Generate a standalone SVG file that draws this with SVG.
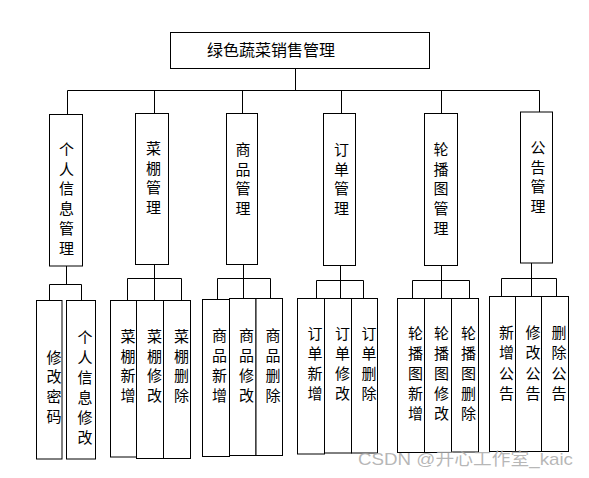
<svg xmlns="http://www.w3.org/2000/svg" width="589" height="478" viewBox="0 0 589 478">
<style>
.box{fill:#fff;stroke:#000;stroke-width:1}
.cn{fill:none;stroke:#000;stroke-width:1}
text{font-family:"Noto Sans CJK SC","Noto Sans CJK JP",sans-serif;fill:#000}
.v{font-size:15px;text-anchor:middle}
.t{font-size:16px}
.wm{font-family:"Liberation Sans","Noto Sans CJK SC",sans-serif;font-size:17px;fill:#aaa;fill-opacity:0.85}
</style>
<rect width="589" height="478" fill="#fff"/>
<g id="connectors">
<path class="cn" d="M295.5 68.5V90.5M67.5 90.5H539.5M67.5 90.5V114M154.5 90.5V113M242.5 90.5V113M341.5 90.5V113M441.5 90.5V113M539.5 90.5V112"/>
<path class="cn" d="M66.5 266V284.5M49.5 300V284.5H81.5V300"/>
<path class="cn" d="M154.5 264V300M127.5 300V278.5H181.5V300"/>
<path class="cn" d="M243.5 264V298M217.5 299V278.5H270.5V298"/>
<path class="cn" d="M340.5 265V298M316.5 298V280.5H363.5V298"/>
<path class="cn" d="M441.5 265V298M412.5 298V280.5H469.5V298"/>
<path class="cn" d="M531.5 263V296M501.5 296V278.5H556.5V296"/>
</g>
<g id="root">
<rect class="box" x="170.5" y="32.5" width="259" height="36"/>
<text class="t" x="207" y="56">绿色蔬菜销售管理</text>
</g>
<g id="n-geren">
<rect class="box" x="49.5" y="114.5" width="33" height="151.5"/>
<text class="v" x="66.5" y="155"><tspan x="66.5">个</tspan><tspan x="66.5" dy="19.7">人</tspan><tspan x="66.5" dy="19.7">信</tspan><tspan x="66.5" dy="19.7">息</tspan><tspan x="66.5" dy="19.7">管</tspan><tspan x="66.5" dy="19.7">理</tspan></text>
</g>
<g id="n-caipeng">
<rect class="box" x="135.5" y="113.5" width="33" height="151"/>
<text class="v" x="153.5" y="154"><tspan x="153.5">菜</tspan><tspan x="153.5" dy="19.7">棚</tspan><tspan x="153.5" dy="19.7">管</tspan><tspan x="153.5" dy="19.7">理</tspan></text>
</g>
<g id="n-shangpin">
<rect class="box" x="226.5" y="113.5" width="31" height="151"/>
<text class="v" x="243" y="155"><tspan x="243">商</tspan><tspan x="243" dy="19.7">品</tspan><tspan x="243" dy="19.7">管</tspan><tspan x="243" dy="19.7">理</tspan></text>
</g>
<g id="n-dingdan">
<rect class="box" x="323.5" y="113.5" width="32" height="152"/>
<text class="v" x="341.5" y="155"><tspan x="341.5">订</tspan><tspan x="341.5" dy="19.7">单</tspan><tspan x="341.5" dy="19.7">管</tspan><tspan x="341.5" dy="19.7">理</tspan></text>
</g>
<g id="n-lunbo">
<rect class="box" x="424.5" y="113.5" width="33" height="152"/>
<text class="v" x="441" y="155"><tspan x="441">轮</tspan><tspan x="441" dy="19.7">播</tspan><tspan x="441" dy="19.7">图</tspan><tspan x="441" dy="19.7">管</tspan><tspan x="441" dy="19.7">理</tspan></text>
</g>
<g id="n-gonggao">
<rect class="box" x="520.5" y="112" width="32" height="151"/>
<text class="v" x="538" y="153"><tspan x="538">公</tspan><tspan x="538" dy="19.7">告</tspan><tspan x="538" dy="19.7">管</tspan><tspan x="538" dy="19.7">理</tspan></text>
</g>
<g id="l-xiugaimima">
<rect class="box" x="36.5" y="300.5" width="25.5" height="158.5"/>
<text class="v" x="54" y="362.5"><tspan x="54">修</tspan><tspan x="54" dy="19.8">改</tspan><tspan x="54" dy="19.8">密</tspan><tspan x="54" dy="19.8">码</tspan></text>
</g>
<g id="l-gerenxiugai">
<rect class="box" x="66.5" y="300.5" width="29" height="158.5"/>
<text class="v" x="85" y="342.5"><tspan x="85">个</tspan><tspan x="85" dy="20">人</tspan><tspan x="85" dy="20">信</tspan><tspan x="85" dy="20">息</tspan><tspan x="85" dy="20">修</tspan><tspan x="85" dy="20">改</tspan></text>
</g>
<g id="l-caipeng-add">
<rect class="box" x="110.5" y="300.5" width="26" height="156.5"/>
<text class="v" x="128" y="342"><tspan x="128">菜</tspan><tspan x="128" dy="19.7">棚</tspan><tspan x="128" dy="19.7">新</tspan><tspan x="128" dy="19.7">增</tspan></text>
</g>
<g id="l-caipeng-edit">
<rect class="box" x="136.5" y="300.5" width="27" height="158"/>
<text class="v" x="154.5" y="342"><tspan x="154.5">菜</tspan><tspan x="154.5" dy="19.7">棚</tspan><tspan x="154.5" dy="19.7">修</tspan><tspan x="154.5" dy="19.7">改</tspan></text>
</g>
<g id="l-caipeng-del">
<rect class="box" x="163.5" y="300.5" width="27" height="158"/>
<text class="v" x="181.5" y="342"><tspan x="181.5">菜</tspan><tspan x="181.5" dy="19.7">棚</tspan><tspan x="181.5" dy="19.7">删</tspan><tspan x="181.5" dy="19.7">除</tspan></text>
</g>
<g id="l-shangpin-add">
<rect class="box" x="202.5" y="299.5" width="27" height="157"/>
<text class="v" x="219.5" y="341"><tspan x="219.5">商</tspan><tspan x="219.5" dy="20">品</tspan><tspan x="219.5" dy="20">新</tspan><tspan x="219.5" dy="20">增</tspan></text>
</g>
<g id="l-shangpin-edit">
<rect class="box" x="229.5" y="298.5" width="26.5" height="157"/>
<text class="v" x="246.5" y="341"><tspan x="246.5">商</tspan><tspan x="246.5" dy="20">品</tspan><tspan x="246.5" dy="20">修</tspan><tspan x="246.5" dy="20">改</tspan></text>
</g>
<g id="l-shangpin-del">
<rect class="box" x="256" y="298.5" width="26.5" height="157"/>
<text class="v" x="273" y="341"><tspan x="273">商</tspan><tspan x="273" dy="20">品</tspan><tspan x="273" dy="20">删</tspan><tspan x="273" dy="20">除</tspan></text>
</g>
<g id="l-dingdan-add">
<rect class="box" x="297.5" y="298.5" width="27" height="155.5"/>
<text class="v" x="315" y="339"><tspan x="315">订</tspan><tspan x="315" dy="20">单</tspan><tspan x="315" dy="20">新</tspan><tspan x="315" dy="20">增</tspan></text>
</g>
<g id="l-dingdan-edit">
<rect class="box" x="324.5" y="298.5" width="27" height="154.5"/>
<text class="v" x="342.5" y="339"><tspan x="342.5">订</tspan><tspan x="342.5" dy="20">单</tspan><tspan x="342.5" dy="20">修</tspan><tspan x="342.5" dy="20">改</tspan></text>
</g>
<g id="l-dingdan-del">
<rect class="box" x="351.5" y="298.5" width="26" height="154.5"/>
<text class="v" x="369" y="339"><tspan x="369">订</tspan><tspan x="369" dy="20">单</tspan><tspan x="369" dy="20">删</tspan><tspan x="369" dy="20">除</tspan></text>
</g>
<g id="l-lunbo-add">
<rect class="box" x="397.5" y="298.5" width="27" height="154"/>
<text class="v" x="415.5" y="339"><tspan x="415.5">轮</tspan><tspan x="415.5" dy="20">播</tspan><tspan x="415.5" dy="20">图</tspan><tspan x="415.5" dy="20">新</tspan><tspan x="415.5" dy="20">增</tspan></text>
</g>
<g id="l-lunbo-edit">
<rect class="box" x="424.5" y="298.5" width="27" height="154"/>
<text class="v" x="441.5" y="339"><tspan x="441.5">轮</tspan><tspan x="441.5" dy="20">播</tspan><tspan x="441.5" dy="20">图</tspan><tspan x="441.5" dy="20">修</tspan><tspan x="441.5" dy="20">改</tspan></text>
</g>
<g id="l-lunbo-del">
<rect class="box" x="451.5" y="298.5" width="27" height="153.5"/>
<text class="v" x="468.5" y="339"><tspan x="468.5">轮</tspan><tspan x="468.5" dy="20">播</tspan><tspan x="468.5" dy="20">图</tspan><tspan x="468.5" dy="20">删</tspan><tspan x="468.5" dy="20">除</tspan></text>
</g>
<g id="l-gonggao-add">
<rect class="box" x="489.5" y="296.5" width="26" height="155"/>
<text class="v" x="506.5" y="338"><tspan x="506.5">新</tspan><tspan x="506.5" dy="20.3">增</tspan><tspan x="506.5" dy="20.3">公</tspan><tspan x="506.5" dy="20.3">告</tspan></text>
</g>
<g id="l-gonggao-edit">
<rect class="box" x="515.5" y="296.5" width="26" height="155"/>
<text class="v" x="533" y="338"><tspan x="533">修</tspan><tspan x="533" dy="20.3">改</tspan><tspan x="533" dy="20.3">公</tspan><tspan x="533" dy="20.3">告</tspan></text>
</g>
<g id="l-gonggao-del">
<rect class="box" x="541.5" y="296.5" width="27" height="155"/>
<text class="v" x="559" y="338"><tspan x="559">删</tspan><tspan x="559" dy="20.3">除</tspan><tspan x="559" dy="20.3">公</tspan><tspan x="559" dy="20.3">告</tspan></text>
</g>
<text class="wm" x="358" y="465" textLength="215" lengthAdjust="spacingAndGlyphs">CSDN @开心工作室_kaic</text>
</svg>
